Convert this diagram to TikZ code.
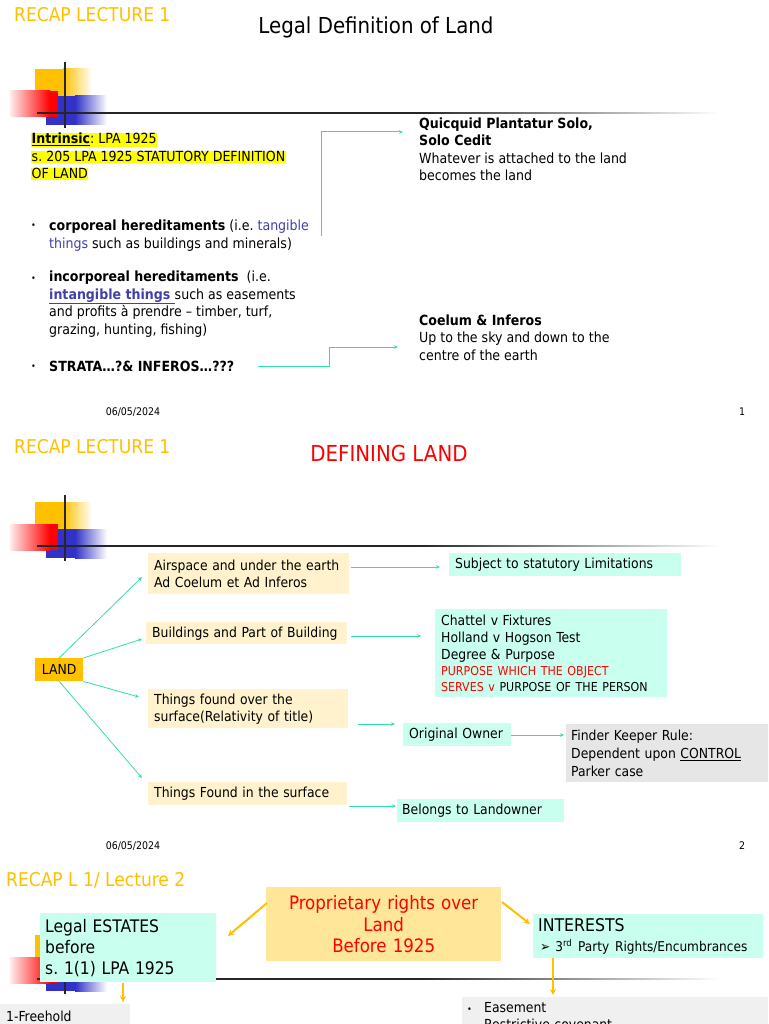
\documentclass[tikz,border=0pt]{standalone}
\usepackage{fontspec}
\setmainfont{DejaVu Sans Condensed}
\usetikzlibrary{arrows.meta,calc}
\definecolor{recap}{HTML}{FFC000}
\definecolor{conc}{RGB}{45,225,175}
\definecolor{tblue}{RGB}{64,64,170}
\definecolor{beige}{HTML}{FFF2CC}
\definecolor{aqua}{RGB}{200,255,238}
\definecolor{grayE}{HTML}{E6E6E6}
\definecolor{grayF}{HTML}{F0F0F0}
\definecolor{propy}{HTML}{FFE699}
\definecolor{hl}{HTML}{FFFF00}
\definecolor{logoblue}{RGB}{50,50,200}
\newcommand\fsz[2]{\fontsize{#1}{#2}\selectfont}
\newcommand\slidelogo[1]{%
\begin{scope}[shift={(0,#1)}]
\fill[recap] (35,69) rectangle (63,97);
\shade[left color=recap,right color=white] (63,69) rectangle (92,97);
\fill[logoblue] (46,96) rectangle (75,125);
\shade[left color=logoblue,right color=white] (75,96) rectangle (107,125);
\shade[left color=red!8,right color=red] (10,91) rectangle (50,117);
\fill[red] (50,91) rectangle (58,117);
\fill[black!85] (64,62) rectangle (66,128);
\fill[black!85] (37,112.3) rectangle (420,113.7);
\shade[left color=black!85,right color=white] (420,112.3) rectangle (720,113.7);
\end{scope}}
\tikzset{
  txt/.style={inner sep=0pt, anchor=base west, align=left, font=\fsz{14}{17.5}},
  conn/.style={draw=conc, line width=1pt, -{Stealth[length=4pt,width=3.5pt]}},
  garrow/.style={draw=recap, line width=2pt, -{Stealth[length=6pt,width=6pt]}},
  tbox/.style={anchor=north west, inner ysep=0pt, inner xsep=6pt, align=left, font=\fsz{13.8}{17}},
  recapt/.style={anchor=west, inner sep=0pt, text=recap, font=\fsz{19}{22}},
  foot/.style={inner sep=0pt, font=\fsz{10.5}{12}}
}
\begin{document}
\frenchspacing
\begin{tikzpicture}[x=1pt,y=-1pt]
\useasboundingbox (0,0) rectangle (768,1024);
\clip (0,0) rectangle (768,1024);
\fill[white] (0,0) rectangle (768,1024);

% ---------------- Slide 1 ----------------
\node[recapt] (r1) at (14,15) {RECAP LECTURE 1};
\node[inner sep=0pt, font=\fsz{22}{26}] (t1) at (376,27) {Legal Definition of Land};
\slidelogo{0}

\node[txt, fill=hl, inner sep=0.5pt] (i1) at (31,144) {\underline{\textbf{Intrinsic}}: LPA 1925};
\node[txt, fill=hl, inner sep=0.5pt] (i2) at (31,162) {s. 205 LPA 1925 STATUTORY DEFINITION};
\node[txt, fill=hl, inner sep=0.5pt] (i3) at (31,179) {OF LAND};

\node[txt, font=\fsz{9}{12}] (bu1) at (31,229) {•};
\node[txt] (corp) at (49,248) {\textbf{corporeal hereditaments} (i.e. \textcolor{tblue}{tangible}\\\textcolor{tblue}{things} such as buildings and minerals)};
\node[txt, font=\fsz{9}{12}] (bu2) at (31,281) {•};
\node[txt] (incorp) at (49,334) {\textbf{incorporeal hereditaments}\ \ (i.e.\\\textcolor{tblue}{\underline{\textbf{intangible things }}}such as easements\\and profits à prendre – timber, turf,\\grazing, hunting, fishing)};
\node[txt, font=\fsz{9}{12}] (bu3) at (31,369) {•};
\node[txt] (strata) at (49,371) {\textbf{STRATA…?\& INFEROS…???}};

\node[txt] (quic) at (419,181) {\textbf{Quicquid Plantatur Solo,}\\\textbf{Solo Cedit}\\Whatever is attached to the land\\becomes the land};
\node[txt] (coel) at (419,360) {\textbf{Coelum \& Inferos}\\Up to the sky and down to the\\centre of the earth};

\coordinate (c1s) at (321,236);
\coordinate (c1e) at (403,132);
\draw[conn] (c1s) |- (c1e);
\coordinate (c2s) at (258,366);
\coordinate (c2m) at (329,347);
\coordinate (c2e) at (398,347);
\draw[conn] (c2s) -| (c2m) -- (c2e);

\node[foot] (d1) at (133,412) {06/05/2024};
\node[foot] (p1) at (742,412) {1};

% ---------------- Slide 2 ----------------
\node[recapt] (r2) at (14,447) {RECAP LECTURE 1};
\node[inner sep=0pt, font=\fsz{22}{26}, text=red] (t2) at (389,453) {DEFINING LAND};
\slidelogo{433}

\node[fill=recap, anchor=north west, minimum width=48, minimum height=23, inner sep=0pt, font=\fsz{13.8}{16}] (land) at (35,658) {LAND};

\node[tbox, fill=beige, minimum width=201, minimum height=41, text width=189] (air) at (148,553) {Airspace and under the earth\\Ad Coelum et Ad Inferos};
\node[tbox, fill=beige, minimum width=201, minimum height=22, text width=189] (bld) at (146,622) {Buildings and Part of Building};
\node[tbox, fill=beige, minimum width=200, minimum height=39, text width=188] (over) at (148,689) {Things found over the\\surface(Relativity of title)};
\node[tbox, fill=beige, minimum width=199, minimum height=23, text width=187] (inn) at (148,782) {Things Found in the surface};

\node[tbox, fill=aqua, minimum width=232, minimum height=23, text width=220] (subj) at (449,553) {Subject to statutory Limitations};
\node[tbox, fill=aqua, minimum width=232, minimum height=88, text width=220] (chat) at (435,609) {Chattel v Fixtures\\Holland v Hogson Test\\Degree \& Purpose\\[-1pt]{\fsz{12.3}{16}\textcolor{red}{PURPOSE WHICH THE OBJECT}}\\[-1pt]{\fsz{12.3}{16}\textcolor{red}{SERVES v} PURPOSE OF THE PERSON}};
\node[tbox, fill=aqua, minimum width=108, minimum height=23, text width=96] (orig) at (403,723) {Original Owner};
\node[tbox, fill=grayE, minimum width=210, minimum height=58, text width=200, inner xsep=5pt, font=\fsz{13.8}{18}] (find) at (566,724) {Finder Keeper Rule:\\Dependent upon \underline{CONTROL}\\Parker case};
\node[tbox, fill=aqua, minimum width=167, minimum height=23, text width=157, inner xsep=5pt] (bel) at (397,799) {Belongs to Landowner};

\coordinate (e1) at (142,577);
\coordinate (e2) at (142,639);
\coordinate (e3) at (139,697);
\coordinate (e4) at (142,778);
\draw[conn, line width=0.8pt] (land.north) -- (e1);
\draw[conn, line width=0.8pt] (land.north east) -- (e2);
\draw[conn, line width=0.8pt] (land.south east) -- (e3);
\draw[conn, line width=0.8pt] (land.south) -- (e4);

\coordinate (a1) at (351,567);
\draw[conn, shorten >=9pt] (a1) -- (a1 -| subj.west);
\coordinate (a2) at (351,636);
\draw[conn, shorten >=14pt] (a2) -- (a2 -| chat.west);
\coordinate (a3) at (358,724);
\draw[conn, line width=0.8pt, shorten >=8pt] (a3) -- (a3 -| orig.west);
\coordinate (a4) at (511,735);
\draw[conn, shorten >=2pt] (a4) -- (a4 -| find.west);
\coordinate (a5) at (349,806);
\draw[conn, shorten >=1pt] (a5) -- (a5 -| bel.west);

\node[foot] (d2) at (133,846) {06/05/2024};
\node[foot] (p2) at (742,846) {2};

% ---------------- Slide 3 ----------------
\node[recapt] (r3) at (6,880) {RECAP L 1/ Lecture 2};
\slidelogo{866}

\node[fill=propy, anchor=north west, minimum width=235, minimum height=74, text width=235, align=center, inner sep=0pt, font=\fsz{18.5}{21.5}, text=red] (prop) at (266,887) {Proprietary rights over\\Land\\Before 1925};
\node[fill=aqua, anchor=north west, minimum width=176, minimum height=69, text width=166, inner xsep=5pt, inner ysep=0pt, align=left, font=\fsz{17.3}{21}] (legal) at (40,913) {Legal ESTATES\\before\\s. 1(1) LPA 1925};
\node[fill=aqua, anchor=north west, minimum width=230, minimum height=44, text width=220, inner xsep=5pt, inner ysep=0pt, align=left, font=\fsz{17.5}{20}] (intr) at (533,914) {INTERESTS\\\mbox{\fsz{13.5}{20}\hspace{2pt}➢\hspace{5pt}3\textsuperscript{rd} Party Rights/Encumbrances}};

\node[fill=grayF, anchor=north west, minimum width=130, minimum height=24, text width=118, inner xsep=6pt, inner ysep=0pt, align=left, font=\fsz{13.8}{17}] (free) at (0,1004) {1-Freehold};
\node[fill=grayF, anchor=north west, minimum width=306, text width=296, inner xsep=5pt, inner ysep=5pt, align=left, font=\fsz{13.8}{17}] (ease) at (462,997) {\makebox[17pt][l]{\fsz{9}{12}•}Easement\\\makebox[17pt][l]{\fsz{9}{12}•}Restrictive covenant};

\coordinate (y1s) at (267,903);
\coordinate (y1e) at (228,936);
\draw[garrow] (y1s) -- (y1e);
\coordinate (y2s) at (502,902);
\coordinate (y2e) at (530,924);
\draw[garrow] (y2s) -- (y2e);
\coordinate (y3s) at (123,983);
\coordinate (y3e) at (123,1002);
\draw[garrow] (y3s) -- (y3e);
\coordinate (y4s) at (553,958);
\coordinate (y4e) at (553,995);
\draw[garrow] (y4s) -- (y4e);
\end{tikzpicture}
\end{document}
